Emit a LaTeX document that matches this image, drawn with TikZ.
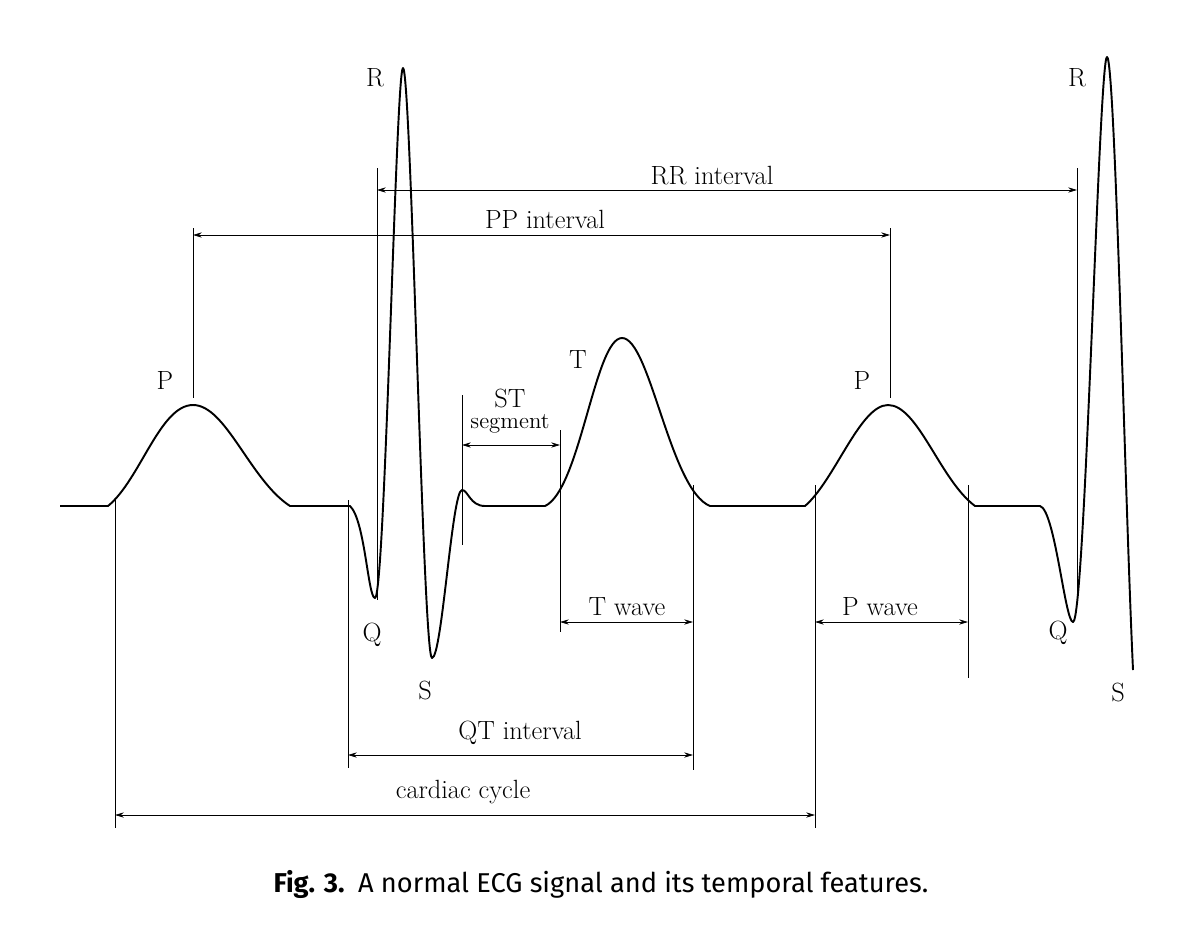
\documentclass[tikz,border=0pt]{standalone}
\usepackage{fontspec}
\newfontfamily\capfont{Fira Sans}
\usetikzlibrary{arrows.meta}
\begin{document}
\begin{tikzpicture}[x=0.02cm,y=-0.02cm,
  lbl/.style={font=\fontsize{15}{17}\selectfont,inner sep=0pt},
  dim/.style={line width=0.45pt,{Stealth[length=5pt,width=3pt]}-{Stealth[length=5pt,width=3pt]}},
  tick/.style={line width=0.45pt},
  ecg/.style={line width=1.1pt,line join=round}]
\useasboundingbox (0,0) rectangle (1202,946);
% ECG trace
\draw[ecg] (60,506) -- (108,506)
  .. controls (140,480) and (160,405) .. (193,405)
  .. controls (226,405) and (250,480) .. (290,506) -- (350,506)
  .. controls (365,520) and (368,598) .. (375,598)
  .. controls (385,598) and (396,68) .. (403,68)
  .. controls (411,68) and (423,658) .. (432,658)
  .. controls (442,658) and (452,490) .. (462,490)
  .. controls (468,490) and (470,506) .. (485,506) -- (545,506)
  .. controls (580,490) and (595,338) .. (622,338)
  .. controls (650,338) and (670,490) .. (710,506) -- (805,506)
  .. controls (835,480) and (860,405) .. (888,405)
  .. controls (918,405) and (940,480) .. (975,506) -- (1040,506)
  .. controls (1055,510) and (1065,622) .. (1073,622)
  .. controls (1085,622) and (1099,57) .. (1107,57)
  .. controls (1115,57) and (1125,500) .. (1133,670);
% vertical markers
\draw[tick] (377,168) -- (377,600);
\draw[tick] (1077,168) -- (1077,600);
\draw[tick] (193,228) -- (193,398);
\draw[tick] (890,228) -- (890,398);
\draw[tick] (462,395) -- (462,545);
\draw[tick] (560,430) -- (560,632);
\draw[tick] (693,485) -- (693,770);
\draw[tick] (815,485) -- (815,828);
\draw[tick] (968,485) -- (968,678);
\draw[tick] (348,500) -- (348,768);
\draw[tick] (115,500) -- (115,828);
% coordinates
\coordinate (rr1) at (377,190); \coordinate (rr2) at (1077,190);
\coordinate (pp1) at (193,235); \coordinate (pp2) at (890,235);
\coordinate (st1) at (462,445); \coordinate (st2) at (560,445);
\coordinate (tw1) at (560,622); \coordinate (tw2) at (693,622);
\coordinate (pw1) at (815,622); \coordinate (pw2) at (968,622);
\coordinate (qt1) at (348,755); \coordinate (qt2) at (693,755);
\coordinate (cc1) at (115,815); \coordinate (cc2) at (815,815);
\draw[dim] (rr1) -- (rr2);
\draw[dim] (pp1) -- (pp2);
\draw[dim] (st1) -- (st2);
\draw[dim] (tw1) -- (tw2);
\draw[dim] (pw1) -- (pw2);
\draw[dim] (qt1) -- (qt2);
\draw[dim] (cc1) -- (cc2);
% labels
\node[lbl] (lrr) at (712,176) {RR interval};
\node[lbl] (lpp) at (545,219) {PP interval};
\node[lbl] (lst) at (510,398) {ST};
\node[lbl,font=\fontsize{13}{15}\selectfont] (lseg) at (510,424) {segment};
\node[lbl] (ltw) at (627,607) {T wave};
\node[lbl] (lpw) at (880,607) {P wave};
\node[lbl] (lqt) at (520,733) {QT interval};
\node[lbl] (lcc) at (463,792) {cardiac cycle};
\node[lbl] (p1) at (165,380) {P};
\node[lbl] (p2) at (862,380) {P};
\node[lbl] (r1) at (375,78) {R};
\node[lbl] (r2) at (1077,78) {R};
\node[lbl] (q1) at (372,635) {Q};
\node[lbl] (q2) at (1058,633) {Q};
\node[lbl] (s1) at (425,690) {S};
\node[lbl] (s2) at (1118,692) {S};
\node[lbl] (t1) at (578,360) {T};
\node[font=\capfont\fontsize{15.5}{18}\selectfont] (cap) at (601,884) {\textbf{Fig. 3.}\enspace A normal ECG signal and its temporal features.};
\end{tikzpicture}
\end{document}
